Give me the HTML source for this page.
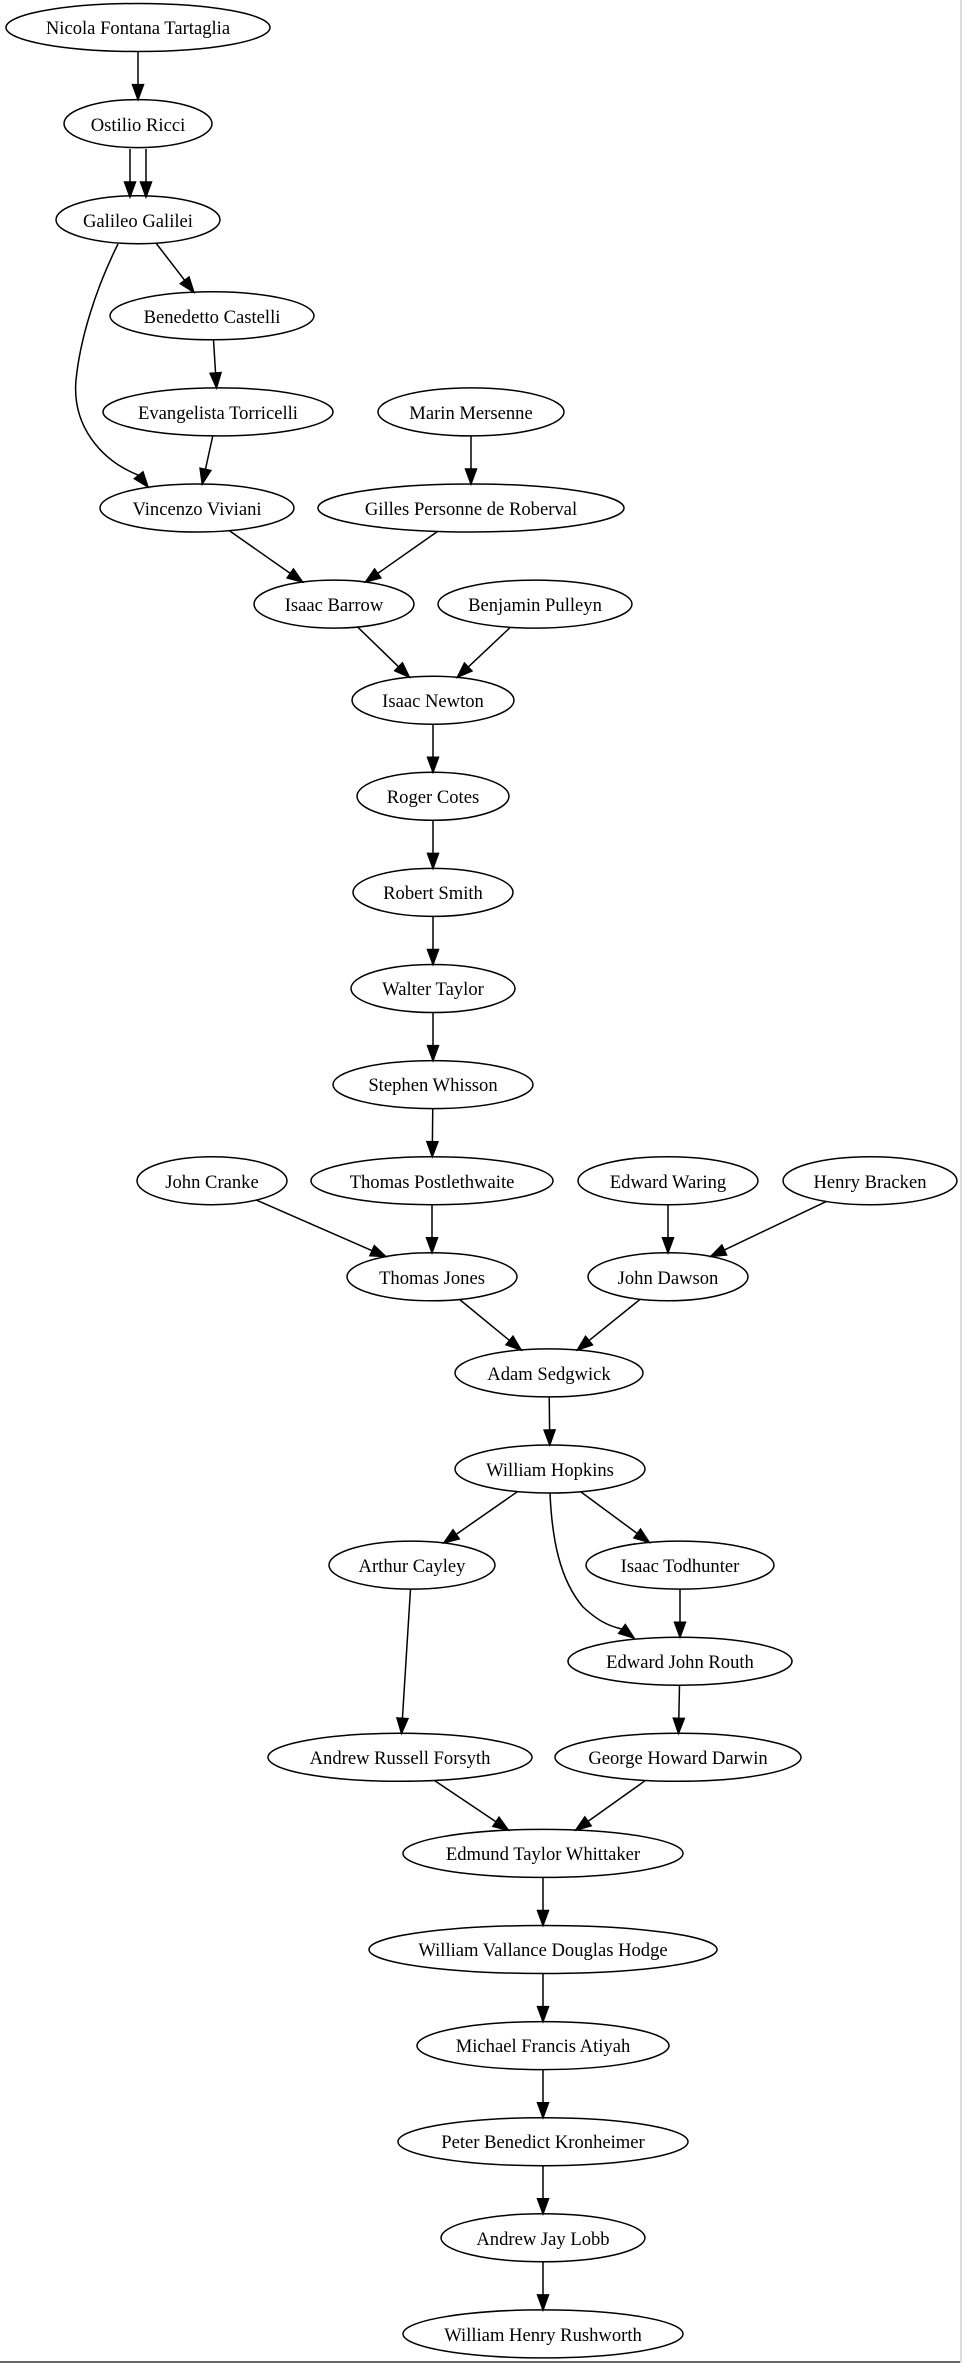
<!DOCTYPE html>
<html><head><meta charset="utf-8"><style>
html,body{margin:0;padding:0;background:#fff}
#w{position:relative;width:962px;height:2363px;overflow:hidden;background:#fff}
svg text{font-family:"Liberation Serif",serif;font-size:18.6px;fill:#000}
</style></head><body><div id="w">
<svg id="s" width="962" height="2363" viewBox="0 0 962 2363" xmlns="http://www.w3.org/2000/svg">
<rect x="0" y="2361" width="962" height="2" fill="#666"/>
<rect x="960" y="0" width="2" height="2363" fill="#ddd"/>
<g id="nodes" fill="none" stroke="#000" stroke-width="1.5"></g>
<g id="edges" stroke="#000" stroke-width="1.5" fill="none"></g>
<g id="heads" fill="#000" stroke="#000" stroke-width="1.5"></g>
<g id="labels" text-anchor="middle">
<text x="138" y="34">Nicola Fontana Tartaglia</text>
<text x="138" y="131">Ostilio Ricci</text>
<text x="138" y="227">Galileo Galilei</text>
<text x="212" y="323">Benedetto Castelli</text>
<text x="218" y="419">Evangelista Torricelli</text>
<text x="471" y="419">Marin Mersenne</text>
<text x="197" y="515">Vincenzo Viviani</text>
<text x="471" y="515">Gilles Personne de Roberval</text>
<text x="334" y="611">Isaac Barrow</text>
<text x="535" y="611">Benjamin Pulleyn</text>
<text x="433" y="707">Isaac Newton</text>
<text x="433" y="803">Roger Cotes</text>
<text x="433" y="899">Robert Smith</text>
<text x="433" y="995">Walter Taylor</text>
<text x="433" y="1091">Stephen Whisson</text>
<text x="212" y="1188">John Cranke</text>
<text x="432" y="1188">Thomas Postlethwaite</text>
<text x="668" y="1188">Edward Waring</text>
<text x="870" y="1188">Henry Bracken</text>
<text x="432" y="1284">Thomas Jones</text>
<text x="668" y="1284">John Dawson</text>
<text x="549" y="1380">Adam Sedgwick</text>
<text x="550" y="1476">William Hopkins</text>
<text x="412" y="1572">Arthur Cayley</text>
<text x="680" y="1572">Isaac Todhunter</text>
<text x="680" y="1668">Edward John Routh</text>
<text x="400" y="1764">Andrew Russell Forsyth</text>
<text x="678" y="1764">George Howard Darwin</text>
<text x="543" y="1860">Edmund Taylor Whittaker</text>
<text x="543" y="1956">William Vallance Douglas Hodge</text>
<text x="543" y="2052">Michael Francis Atiyah</text>
<text x="543" y="2148">Peter Benedict Kronheimer</text>
<text x="543" y="2245">Andrew Jay Lobb</text>
<text x="543" y="2341">William Henry Rushworth</text>
</g>
</svg>
<script>
var R=function(i){return 27.5+96.1*i;};
var N={
tar:[138,0,132],ost:[138,1,74],gal:[138,2,82],cas:[212,3,102],tor:[218,4,115],mer:[471,4,93],
viv:[197,5,97],rob:[471,5,153],bar:[334,6,80],pul:[535,6,97],new:[433,7,81],cot:[433,8,76],
smi:[433,9,80],tay:[433,10,82],whi:[433,11,100],cra:[212,12,75],pos:[432,12,121],war:[668,12,90],
bra:[870,12,87],jon:[432,13,85],daw:[668,13,80],sed:[549,14,94],hop:[550,15,95],cay:[412,16,83],
tod:[680,16,94],rou:[680,17,112],for:[400,18,132],dar:[678,18,123],wht:[543,19,140],hod:[543,20,174],
ati:[543,21,126],kro:[543,22,145],lob:[543,23,102],rus:[543,24,140]};
var RY=24,ns="http://www.w3.org/2000/svg";
function el(p,t,a){var e=document.createElementNS(ns,t);for(var k in a)e.setAttribute(k,a[k]);document.getElementById(p).appendChild(e);return e;}
for(var k in N){var n=N[k];el("nodes","ellipse",{cx:n[0],cy:R(n[1]),rx:n[2],ry:RY});}
function bpt(n,tx,ty){var cx=n[0],cy=R(n[1]),dx=tx-cx,dy=ty-cy;var t=1/Math.sqrt(dx*dx/(n[2]*n[2])+dy*dy/(RY*RY));return [cx+dx*t,cy+dy*t];}
function head(tx,ty,ux,uy){var L=15,W=5.5,bx=tx-ux*L,by=ty-uy*L;
el("heads","polygon",{points:tx+","+ty+" "+(bx-uy*W)+","+(by+ux*W)+" "+(bx+uy*W)+","+(by-ux*W)});return [bx,by];}
function edge(a,b){var A=N[a],B=N[b];var s=bpt(A,B[0],R(B[1])),e=bpt(B,A[0],R(A[1]));
var dx=e[0]-s[0],dy=e[1]-s[1],d=Math.sqrt(dx*dx+dy*dy),ux=dx/d,uy=dy/d;var b2=head(e[0],e[1],ux,uy);
el("edges","line",{x1:s[0],y1:s[1],x2:b2[0],y2:b2[1]});}
[["tar","ost"],["gal","cas"],["cas","tor"],["tor","viv"],["mer","rob"],["viv","bar"],["rob","bar"],
["bar","new"],["pul","new"],["new","cot"],["cot","smi"],["smi","tay"],["tay","whi"],["whi","pos"],
["cra","jon"],["pos","jon"],["war","daw"],["bra","daw"],["jon","sed"],["daw","sed"],["sed","hop"],
["hop","cay"],["hop","tod"],["tod","rou"],["cay","for"],["rou","dar"],["for","wht"],["dar","wht"],
["wht","hod"],["hod","ati"],["ati","kro"],["kro","lob"],["lob","rus"]].forEach(function(p){edge(p[0],p[1]);});
// double edges Ostilio -> Galileo
[130,146].forEach(function(x){var b=head(x,197,0,1);el("edges","line",{x1:x,y1:149,x2:x,y2:b[1]});});
// curved Galileo -> Viviani
(function(){var tx=148,ty=487,ux=0.62,uy=0.78;var b=head(tx,ty,ux,uy);
el("edges","path",{d:"M118,244 C95,290 80,340 76,380 C72,425 100,460 "+b[0]+","+b[1]});})();
// curved Hopkins -> Routh
(function(){var tx=634,ty=1638,ux=0.8,uy=0.6;var b=head(tx,ty,ux,uy);
el("edges","path",{d:"M550,1493 C552,1540 560,1580 583,1607 C597,1620 608,1626 "+b[0]+","+b[1]});})();
</script>
</div></body></html>
